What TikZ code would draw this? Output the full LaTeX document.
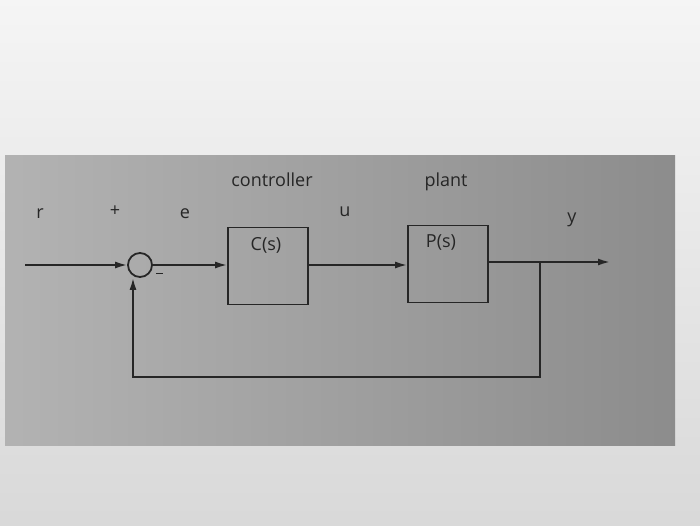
\documentclass[tikz,border=0pt]{standalone}
\usepackage{fontspec}
\setmainfont{Open Sans}
\usetikzlibrary{arrows.meta}
\begin{document}
\begin{tikzpicture}[x=1pt,y=-1pt,
  blk/.style={draw=black!85,line width=1.8pt,minimum width=80pt,minimum height=77pt,inner sep=0pt},
  sig/.style={draw=black!85,line width=1.8pt},
  arr/.style={sig,-{Latex[length=12pt,width=7pt]}},
  lbl/.style={font=\fontsize{18}{20}\selectfont,text=black!85}]
\useasboundingbox (0,0) rectangle (700,525);
\shade[top color=black!4,bottom color=black!15] (0,0) rectangle (700,525);
\shade[left color=black!30,right color=black!45] (5,155) rectangle (675,445);
\node[blk] (C) at (268,266) {};
\node[blk] (P) at (448,264) {};
\node[draw=black!85,line width=1.8pt,circle,minimum size=24pt,inner sep=0pt] (S) at (140,265) {};
\coordinate (in) at (25,265);
\coordinate (out) at (610,262);
\coordinate (br) at (540,262);
\coordinate (d1) at (540,377);
\coordinate (d2) at (133,377);
\draw[arr] (in) -- (S);
\draw[arr] (S) -- (C.west |- S);
\draw[arr] (C.east |- 0,265) -- (P.west |- 0,265);
\draw[arr] (P.east |- out) -- (out);
\draw[arr] (br) -- (d1) -- (d2) -- (d2 |- S.south);
\node[lbl] at (266,245) {C(s)};
\node[lbl] at (441,242) {P(s)};
\node[lbl] at (272,180) {controller};
\node[lbl] at (446,182) {plant};
\node[lbl] at (40,214) {r};
\node[lbl] at (115,211) {+};
\node[lbl] at (185,214) {e};
\node[lbl] at (345,212) {u};
\node[lbl] at (572,220) {y};
\draw[sig,line width=1pt] (156,273) -- (163,273);
\end{tikzpicture}
\end{document}
